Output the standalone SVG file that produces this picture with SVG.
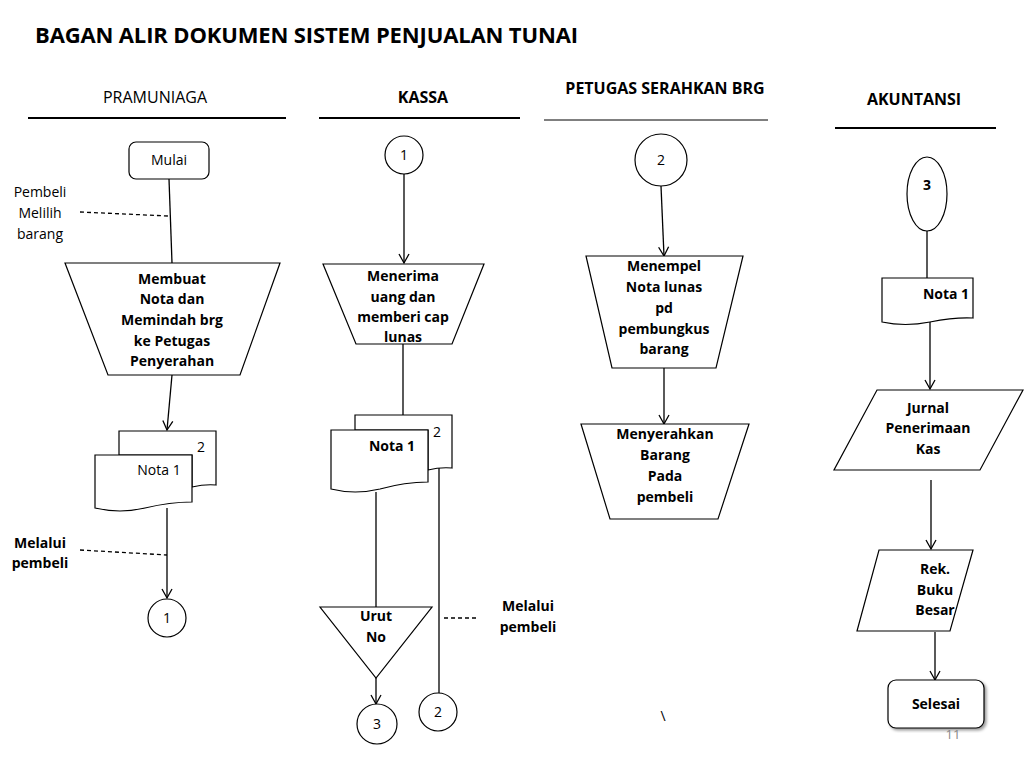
<svg xmlns="http://www.w3.org/2000/svg" width="1024" height="768" viewBox="0 0 1024 768">
<defs>
<marker id="ah" markerWidth="12" markerHeight="12" refX="10" refY="6" orient="auto" markerUnits="userSpaceOnUse"><path d="M1,1 L10,6 L1,11" fill="none" stroke="#000" stroke-width="1.3"/></marker>
<filter id="sh"><feDropShadow dx="2" dy="2" stdDeviation="1.5" flood-opacity="0.4"/></filter>
</defs>
<style>
text{font-family:"Open Sans","Liberation Sans",sans-serif;fill:#000;text-anchor:middle}
.b{font-weight:bold;font-size:14px}
.n{font-size:14px}
.h{font-size:16px}
.s{fill:#fff;stroke:#000;stroke-width:1.2}
.c line,.c path{stroke:#000;stroke-width:1.3;fill:none}
.d{stroke-dasharray:4 3}
</style>
<rect width="1024" height="768" fill="#fff"/>
<text x="35" y="43" style="text-anchor:start;font-weight:bold;font-size:22px" textLength="543">BAGAN ALIR DOKUMEN SISTEM PENJUALAN TUNAI</text>
<g id="headers">
<text x="155" y="103" class="h">PRAMUNIAGA</text>
<line x1="28" y1="118" x2="286" y2="118" stroke="#000" stroke-width="2"/>
<text x="423" y="103" class="h" font-weight="bold">KASSA</text>
<line x1="319" y1="118" x2="520" y2="118" stroke="#000" stroke-width="2"/>
<text x="665" y="94" class="h" font-weight="bold" font-size="15">PETUGAS SERAHKAN BRG</text>
<line x1="544" y1="120" x2="768" y2="120" stroke="#000" stroke-width="1"/>
<text x="914" y="105" class="h" font-weight="bold">AKUNTANSI</text>
<line x1="835" y1="128" x2="996" y2="128" stroke="#000" stroke-width="2"/>
</g>
<g class="c" id="connectors">
<line x1="169" y1="179" x2="172" y2="263"/>
<line x1="80" y1="212" x2="168" y2="216" class="d"/>
<line x1="172" y1="375" x2="167" y2="430" marker-end="url(#ah)"/>
<line x1="167" y1="508" x2="167" y2="598" marker-end="url(#ah)"/>
<line x1="80" y1="550" x2="167" y2="555" class="d"/>
<line x1="404" y1="174" x2="404" y2="263" marker-end="url(#ah)"/>
<line x1="403" y1="344" x2="403" y2="415"/>
<line x1="376" y1="492" x2="376" y2="607"/>
<line x1="439" y1="468" x2="439" y2="693"/>
<line x1="376" y1="678" x2="376" y2="704" marker-end="url(#ah)"/>
<line x1="444" y1="618" x2="476" y2="618" class="d"/>
<line x1="661" y1="186" x2="664" y2="256" marker-end="url(#ah)"/>
<line x1="664" y1="368" x2="664" y2="424" marker-end="url(#ah)"/>
<line x1="927" y1="231" x2="927" y2="278"/>
<line x1="930" y1="320" x2="930" y2="389" marker-end="url(#ah)"/>
<line x1="931" y1="480" x2="931" y2="549" marker-end="url(#ah)"/>
<line x1="935" y1="632" x2="935" y2="680" marker-end="url(#ah)"/>
</g>
<g id="mulai"><rect x="129" y="142" width="80" height="37" rx="7" class="s"/><text x="169" y="165" class="n">Mulai</text></g>
<g id="note1"><text x="40" y="197" class="n">Pembeli</text><text x="40" y="218" class="n">Melilih</text><text x="40" y="239" class="n">barang</text></g>
<g id="membuat"><path d="M65,263 L280,263 L240,375 L108,375 Z" class="s"/>
<text class="b" x="172"><tspan x="172" y="284">Membuat</tspan><tspan x="172" y="304">Nota dan</tspan><tspan x="172" y="325">Memindah brg</tspan><tspan x="172" y="346">ke  Petugas</tspan><tspan x="172" y="366">Penyerahan</tspan></text></g>
<g id="doc1">
<path d="M119,431 L216,431 L216,485 Q205,484 192,487 L192,455 L119,455 Z" class="s"/>
<path d="M95,455 L192,455 L192,502 Q170,502 145,508 Q120,514 95,508 Z" class="s"/>
<text x="201" y="452" class="n">2</text><text x="159" y="475" class="n">Nota 1</text></g>
<g id="note2"><text x="40" y="548" class="b">Melalui</text><text x="40" y="568" class="b">pembeli</text></g>
<g id="c1a"><circle cx="167" cy="618" r="19" class="s"/><text x="167" y="623" class="n">1</text></g>
<g id="c1b"><circle cx="404" cy="155" r="19" class="s"/><text x="404" y="160" class="n">1</text></g>
<g id="menerima"><path d="M323,264 L484,264 L452,344 L356,344 Z" class="s"/>
<text class="b"><tspan x="403" y="281">Menerima</tspan><tspan x="403" y="302">uang dan</tspan><tspan x="403" y="322">memberi cap</tspan><tspan x="403" y="342">lunas</tspan></text></g>
<g id="doc2">
<path d="M355,415 L452,415 L452,468 Q440,467 428,470 L428,430 L355,430 Z" class="s"/>
<path d="M331,430 L428,430 L428,482 Q405,482 380,489 Q355,495 331,489 Z" class="s"/>
<text x="437" y="437" class="n">2</text><text x="392" y="451" class="b">Nota 1</text></g>
<g id="urut"><path d="M320,607 L432,607 L376,678 Z" class="s"/><text class="b"><tspan x="376" y="621">Urut</tspan><tspan x="376" y="642">No</tspan></text></g>
<g id="c3a"><circle cx="377" cy="724" r="20" class="s"/><text x="377" y="729" class="n">3</text></g>
<g id="c2a"><circle cx="438" cy="712" r="19" class="s"/><text x="438" y="717" class="n">2</text></g>
<g id="note3"><text x="528" y="611" class="b">Melalui</text><text x="528" y="632" class="b">pembeli</text></g>
<g id="c2b"><circle cx="661" cy="160" r="26" class="s"/><text x="661" y="165" class="n">2</text></g>
<g id="menempel"><path d="M586,256 L743,256 L716,368 L612,368 Z" class="s"/>
<text class="b"><tspan x="664" y="271">Menempel</tspan><tspan x="664" y="292">Nota lunas</tspan><tspan x="664" y="313">pd</tspan><tspan x="664" y="334">pembungkus</tspan><tspan x="664" y="354">barang</tspan></text></g>
<g id="menyerahkan"><path d="M581,424 L749,424 L718,519 L610,519 Z" class="s"/>
<text class="b"><tspan x="665" y="439">Menyerahkan</tspan><tspan x="665" y="460">Barang</tspan><tspan x="665" y="481">Pada</tspan><tspan x="665" y="502">pembeli</tspan></text></g>
<text x="663" y="721" class="n">\</text>
<g id="c3b"><ellipse cx="927" cy="194" rx="20" ry="37" class="s"/><text x="927" y="190" class="b">3</text></g>
<g id="doc3"><path d="M882,278 L973,278 L973,318 Q955,317 930,322 Q905,327 882,322 Z" class="s"/><text x="946" y="299" class="n" font-weight="bold" font-size="13">Nota 1</text></g>
<g id="jurnal"><path d="M877,390 L1023,390 L980,470 L834,470 Z" class="s"/>
<text class="b"><tspan x="928" y="413">Jurnal</tspan><tspan x="928" y="433">Penerimaan</tspan><tspan x="928" y="454">Kas</tspan></text></g>
<g id="rek"><path d="M879,550 L973,550 L950,631 L857,631 Z" class="s"/>
<text class="b"><tspan x="935" y="574">Rek.</tspan><tspan x="935" y="595">Buku</tspan><tspan x="935" y="615">Besar</tspan></text></g>
<g id="selesai"><rect x="888" y="680" width="96" height="48" rx="8" class="s" filter="url(#sh)"/><text x="936" y="709" class="b">Selesai</text></g>
<text x="953" y="739" style="font-size:13px;fill:#888">11</text>
</svg>
